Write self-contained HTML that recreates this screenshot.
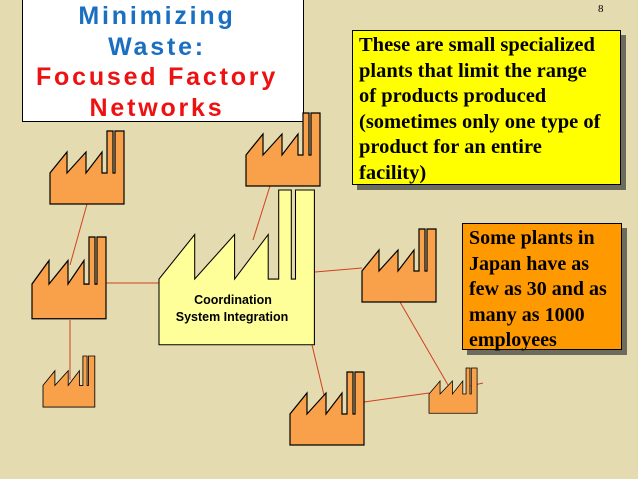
<!DOCTYPE html>
<html><head><style>
body{margin:0;width:638px;height:479px;background:#e5dbb0;position:relative;overflow:hidden;font-family:"Liberation Serif",serif}
.t{position:absolute;left:22px;top:-2px;width:280px;height:122px;background:#fff;border:1px solid #000;text-align:center;font-family:"Liberation Sans",sans-serif;font-weight:bold;font-size:25px;line-height:30.5px;letter-spacing:2.8px;white-space:nowrap}
.t div{position:relative;left:-6px;top:2px}
.box{position:absolute;border:1px solid #000;box-shadow:5px 5px 0 #6b6b5e;font-weight:bold;font-size:20px;line-height:25.5px;padding:2px 6px;box-sizing:border-box;white-space:nowrap}
</style></head><body>
<div class="t"><div><span style="color:#1a6fc0">Minimizing<br>Waste:</span><br><span style="color:#ee1111">Focused Factory<br>Networks</span></div></div>
<div style="position:absolute;left:598px;top:3px;font-size:11px">8</div>
<svg width="638" height="479" style="position:absolute;left:0;top:0">
<g stroke="#d04020" stroke-width="1">
<line x1="87" y1="204" x2="70" y2="265"/><line x1="70" y1="320" x2="70" y2="380"/>
<line x1="106" y1="283" x2="159" y2="283"/><line x1="270" y1="186" x2="253" y2="240"/>
<line x1="315" y1="272" x2="362" y2="268"/><line x1="400" y1="302" x2="448" y2="385"/>
<line x1="312" y1="345" x2="324" y2="395"/><line x1="364" y1="402" x2="429" y2="393"/>
<line x1="470" y1="386" x2="483" y2="383"/>
</g>
<defs><polygon id="f" points="0,73 0,42 17,21 17,42 36,21 36,42 52,21 52,42 57,42 57,0 63,0 63,42 65,42 65,0 74,0 74,73"/></defs>
<g fill="#f9a04b" stroke="#000" stroke-width="1.2">
<use href="#f" transform="translate(50,131)"/>
<use href="#f" transform="translate(246,113)"/>
<use href="#f" transform="translate(32,237) scale(1,1.12)"/>
<use href="#f" transform="translate(43,356) scale(0.7)"/>
<use href="#f" transform="translate(362,229)"/>
<use href="#f" transform="translate(290,372)"/>
<use href="#f" transform="translate(429,368) scale(0.65,0.62)"/>
</g>
<use href="#f" transform="translate(159,190) scale(2.1,2.12)" fill="#ffff99" stroke="#000" stroke-width="0.5"/>
<text x="233" y="304" font-family="Liberation Sans,sans-serif" font-weight="bold" font-size="12.5" text-anchor="middle">Coordination</text>
<text x="232" y="321" font-family="Liberation Sans,sans-serif" font-weight="bold" font-size="12.5" text-anchor="middle">System Integration</text>
</svg>
<div class="box" style="left:352px;top:30px;width:269px;height:155px;background:#ffff00;font-size:20.5px">These are small specialized<br>plants that limit the range<br>of products produced<br>(sometimes only one type of<br>product for an entire<br>facility)</div>
<div class="box" style="left:462px;top:223px;width:160px;height:127px;background:#ff9900">Some plants in<br>Japan have as<br>few as 30 and as<br>many as 1000<br>employees</div>
</body></html>
